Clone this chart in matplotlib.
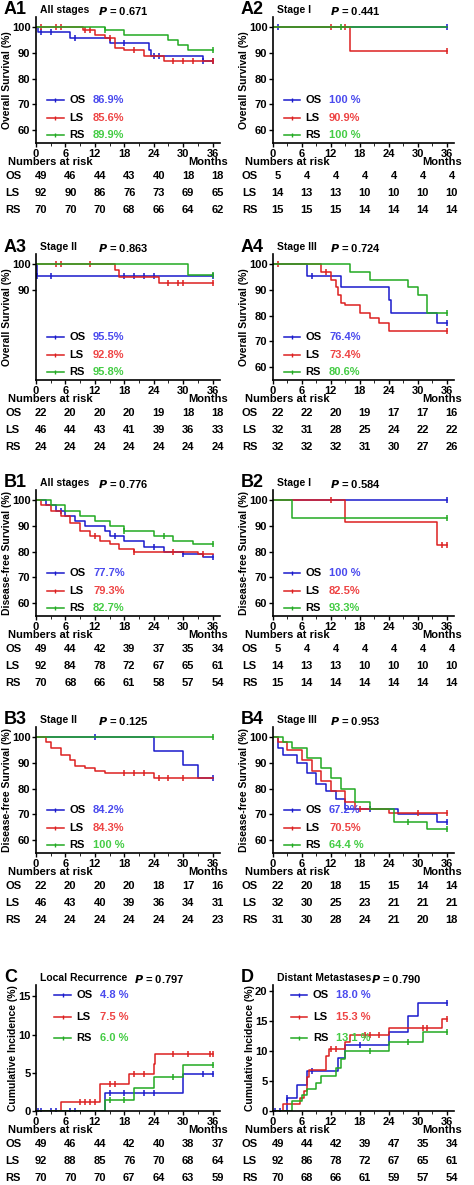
import numpy as np
import matplotlib
matplotlib.use('Agg')
import matplotlib.pyplot as plt
from matplotlib.transforms import blended_transform_factory

plt.rcParams['font.family'] = ['Liberation Sans', 'DejaVu Sans']
plt.rcParams['font.weight'] = 'bold'

BLUE, RED, GREEN = '#1a1acc', '#dd2020', '#22aa22'
LBLUE, LRED, LGREEN = '#4a4aee', '#ee4444', '#44cc44'
groups = ['OS', 'LS', 'RS']
months = [0, 6, 12, 18, 24, 30, 36]

# ---- step curves: (event times, values after each step), censor times ----
a1_os = ([0, 0.5, 7, 15, 23, 23.5, 34], [100, 98, 96, 94, 91, 89, 87])
a1_ls = ([0, 9.5, 12, 14, 16, 18, 22, 26], [100, 99, 97, 96, 92, 91, 89, 87])
a1_rs = ([0, 14, 18, 27, 29, 31], [100, 99, 97, 95, 93, 91])
a1_cens = [[1, 3, 8, 18, 24, 25, 34, 36], [1, 4, 5, 10, 11, 15, 20, 28, 30, 32, 36], [14, 36]]

a2_os = ([0], [100])
a2_ls = ([0, 16], [100, 90.9])
a2_rs = ([0], [100])
a2_cens = [[1, 36], [12, 15, 36], [14]]

a3_os = ([0, 0.3], [100, 95.5])
a3_ls = ([0, 16, 17, 25], [100, 97.6, 95.2, 92.8])
a3_rs = ([0, 31], [100, 95.8])
a3_cens = [[0.3, 3, 18, 20, 22, 24, 36], [4, 5, 11, 27, 29, 30, 36], [36]]

a4_os = ([0, 7, 14, 24, 24.5, 34], [100, 95.5, 91, 86, 81, 77])
a4_ls = ([0, 10, 12, 13, 13.5, 14, 15, 18, 20, 22, 24], [100, 97, 94, 91, 88, 85, 84, 81, 79, 77, 74])
a4_rs = ([0, 16, 20, 28, 30, 32], [100, 97, 94, 91, 88, 81])
a4_cens = [[8, 36], [1, 11, 36], [36]]

b1_os = ([0, 2, 4, 6, 8, 10, 14, 15, 18, 22, 26, 30, 34], [100, 98, 96, 94, 92, 90, 88, 86, 84, 82, 80, 79, 78])
b1_ls = ([0, 1, 3, 5, 7, 9, 11, 13, 15, 17, 20, 26, 33], [100, 98, 96, 94, 91, 88, 86, 84, 83, 81, 80, 80, 79])
b1_rs = ([0, 3, 6, 9, 12, 15, 18, 24, 28, 32], [100, 98, 96, 94, 92, 90, 88, 86, 84, 83])
b1_cens = [[5, 16, 24, 30, 36], [12, 20, 28, 34], [18, 26, 36]]

b2_os = ([0], [100])
b2_ls = ([0, 15, 34], [100, 91.7, 82.5])
b2_rs = ([0, 4], [100, 93.3])
b2_cens = [[36], [12, 35, 36], [36]]

b3_os = ([0, 24, 30, 33], [100, 94.7, 89.4, 84.2])
b3_ls = ([0, 2, 3, 5, 7, 8, 10, 12, 14, 17, 24], [100, 98, 96, 93, 91, 89, 88, 87, 86, 86, 84.3])
b3_rs = ([0], [100])
b3_cens = [[12, 36], [18, 20, 22, 25, 27, 30], [36]]

b4_os = ([0, 1, 2, 5, 7, 9, 11, 13, 15, 24, 26, 34], [100, 96, 93, 90, 86, 82, 79, 76, 72, 72, 70, 67])
b4_ls = ([0, 1, 3, 6, 8, 10, 12, 15, 17, 24], [100, 98, 95, 91, 87, 83, 79, 75, 72, 70.5])
b4_rs = ([0, 2, 4, 7, 10, 12, 14, 17, 20, 25, 32], [100, 98, 96, 92, 88, 84, 80, 75, 72, 67, 64.4])
b4_cens = [[20, 36], [18, 30, 36], [28, 36]]

c_os = ([0, 14, 30], [0, 2.4, 4.8])
c_ls = ([0, 5, 13, 19, 24, 24.3], [0, 1.2, 3.6, 4.9, 6.2, 7.5])
c_rs = ([0, 14, 20, 24, 30], [0, 1.5, 3.0, 4.5, 6.0])
c_cens = [[0.5, 1, 3, 4, 7, 8, 15, 18, 22, 24, 34, 36], [9, 10, 11, 12, 15, 16, 20, 22, 28, 31, 35.5, 36], [15, 18, 28, 36]]

d_os = ([0, 3, 5, 7, 13.5, 15, 24, 28, 30], [0, 2.2, 4.4, 6.6, 8.8, 11, 13.2, 15.8, 18])
d_ls = ([0, 2, 5.5, 6.5, 7, 7.5, 11, 11.5, 14, 15, 16, 24, 35],
        [0, 1.1, 2.2, 3.4, 5.7, 6.8, 9.2, 10.3, 10.3, 11.5, 12.7, 13.9, 15.3])
d_rs = ([0, 4, 6, 7, 9, 10, 13, 14, 15, 24, 31], [0, 1.6, 2.6, 3.6, 4.7, 5.9, 7.1, 8.6, 10.0, 11.5, 13.1])
d_cens = [[0.5, 1.5, 3, 8, 18, 36], [12, 13, 19, 20, 22, 31, 32, 36], [20, 28, 36]]

risk = {
    'A1': [[49, 46, 44, 43, 40, 18, 18], [92, 90, 86, 76, 73, 69, 65], [70, 70, 70, 68, 66, 64, 62]],
    'A2': [[5, 4, 4, 4, 4, 4, 4], [14, 13, 13, 10, 10, 10, 10], [15, 15, 15, 14, 14, 14, 14]],
    'A3': [[22, 20, 20, 20, 19, 18, 18], [46, 44, 43, 41, 39, 36, 33], [24, 24, 24, 24, 24, 24, 24]],
    'A4': [[22, 22, 20, 19, 17, 17, 16], [32, 31, 28, 25, 24, 22, 22], [32, 32, 32, 31, 30, 27, 26]],
    'B1': [[49, 44, 42, 39, 37, 35, 34], [92, 84, 78, 72, 67, 65, 61], [70, 68, 66, 61, 58, 57, 54]],
    'B2': [[5, 4, 4, 4, 4, 4, 4], [14, 13, 13, 10, 10, 10, 10], [15, 14, 14, 14, 14, 14, 14]],
    'B3': [[22, 20, 20, 20, 18, 17, 16], [46, 43, 40, 39, 36, 34, 31], [24, 24, 24, 24, 24, 24, 23]],
    'B4': [[22, 20, 18, 15, 15, 14, 14], [32, 30, 25, 23, 21, 21, 21], [31, 30, 28, 24, 21, 20, 18]],
    'C': [[49, 46, 44, 42, 40, 38, 37], [92, 88, 85, 76, 70, 68, 64], [70, 70, 70, 67, 64, 63, 59]],
    'D': [[49, 44, 42, 39, 47, 35, 34], [92, 86, 78, 72, 67, 65, 61], [70, 68, 66, 61, 59, 57, 54]],
}

panels = [
    # tag, subtitle, P, curves, censors, final %, ylabel, ylim, yticks, legend at top
    ('A1', 'All stages', '0.671', [a1_os, a1_ls, a1_rs], a1_cens, ['86.9%', '85.6%', '89.9%'], 'Overall Survival (%)', (55, 104), [60, 70, 80, 90, 100], False),
    ('A2', 'Stage I', '0.441', [a2_os, a2_ls, a2_rs], a2_cens, ['100 %', '90.9%', '100 %'], 'Overall Survival (%)', (55, 104), [60, 70, 80, 90, 100], False),
    ('A3', 'Stage II', '0.863', [a3_os, a3_ls, a3_rs], a3_cens, ['95.5%', '92.8%', '95.8%'], 'Overall Survival (%)', (55, 104), [90, 100], False),
    ('A4', 'Stage III', '0.724', [a4_os, a4_ls, a4_rs], a4_cens, ['76.4%', '73.4%', '80.6%'], 'Overall Survival (%)', (55, 104), [60, 70, 80, 90, 100], False),
    ('B1', 'All stages', '0.776', [b1_os, b1_ls, b1_rs], b1_cens, ['77.7%', '79.3%', '82.7%'], 'Disease-free Survival (%)', (55, 104), [60, 70, 80, 90, 100], False),
    ('B2', 'Stage I', '0.584', [b2_os, b2_ls, b2_rs], b2_cens, ['100 %', '82.5%', '93.3%'], 'Disease-free Survival (%)', (55, 104), [60, 70, 80, 90, 100], False),
    ('B3', 'Stage II', '0.125', [b3_os, b3_ls, b3_rs], b3_cens, ['84.2%', '84.3%', '100 %'], 'Disease-free Survival (%)', (55, 104), [60, 70, 80, 90, 100], False),
    ('B4', 'Stage III', '0.953', [b4_os, b4_ls, b4_rs], b4_cens, ['67.2%', '70.5%', '64.4 %'], 'Disease-free Survival (%)', (55, 104), [60, 70, 80, 90, 100], False),
    ('C', 'Local Recurrence', '0.797', [c_os, c_ls, c_rs], c_cens, ['4.8 %', '7.5 %', '6.0 %'], 'Cumulative Incidence (%)', (0, 16.5), [0, 5, 10, 15], True),
    ('D', 'Distant Metastases', '0.790', [d_os, d_ls, d_rs], d_cens, ['18.0 %', '15.3 %', '13.1 %'], 'Cumulative Incidence (%)', (0, 21), [0, 5, 10, 15, 20], True),
]

W, H = 474, 1185
fig = plt.figure(figsize=(W / 100, H / 100), dpi=100)
row_tops = [0, 237, 473, 710, 968]
colors = [BLUE, RED, GREEN]
lcolors = [LBLUE, LRED, LGREEN]


def step_value(curve, t):
    ts, vs = curve
    idx = np.searchsorted(ts, t, side='right') - 1
    return vs[max(idx, 0)]


for i, (tag, sub, p, curves, cens, finals, ylab, ylim, yticks, top) in enumerate(panels):
    x0 = 0 if i % 2 == 0 else 237
    y0 = row_tops[i // 2]
    axl = x0 + 36
    aw = 184 if i % 2 == 0 else 181
    ax = fig.add_axes([axl / W, 1 - (y0 + 143) / H, aw / W, 126 / H])
    for curve, cc, col in zip(curves, cens, colors):
        ts = list(curve[0]) + [36]
        vs = list(curve[1]) + [curve[1][-1]]
        ax.step(ts, vs, where='post', color=col, lw=1.1)
        ax.plot(cc, [step_value(curve, t) for t in cc], ls='none', marker='|', ms=4, mew=1.1, color=col)
    ax.set_xlim(0, 37.5)
    ax.set_ylim(*ylim)
    ax.set_xticks(months)
    ax.set_yticks(yticks)
    ax.set_xticks(np.arange(0, 37, 3), minor=True)
    for s in ['top', 'right']:
        ax.spines[s].set_visible(False)
    for s in ['left', 'bottom']:
        ax.spines[s].set_linewidth(1.2)
    ax.tick_params(labelsize=8, length=3, width=1, pad=1)
    ax.set_ylabel(ylab, fontsize=7.5, fontweight='bold', labelpad=0)
    # legend drawn by hand
    ly = [0.92, 0.75, 0.58] if top else [0.34, 0.2, 0.06]
    lx = 0.1 if top else 0.06
    for g, yy, col, lcol, fv in zip(groups, ly, colors, lcolors, finals):
        ax.plot([lx, lx + 0.09], [yy, yy], color=col, lw=1.1, transform=ax.transAxes)
        ax.plot([lx + 0.045], [yy], marker='|', ms=3, color=col, transform=ax.transAxes)
        ax.text(lx + 0.12, yy, g, fontsize=8, va='center', transform=ax.transAxes)
        ax.text(lx + 0.25, yy, fv, fontsize=8, va='center', color=lcol, transform=ax.transAxes)
    # titles
    fig.text((x0 + 4) / W, 1 - (y0 + 10) / H, tag, fontsize=13, fontweight='bold', va='center')
    fig.text((x0 + 40) / W, 1 - (y0 + 10) / H, sub, fontsize=7.5, va='center')
    if tag in ('C', 'D'):
        px = x0 + 134
    elif i % 2 == 0:
        px = x0 + 98
    else:
        px = x0 + 93
    fig.text(px / W, 1 - (y0 + 11) / H, f'$\\boldsymbol{{P}}$ = {p}', fontsize=8, va='center')
    # risk table
    fig.text((x0 + 8) / W, 1 - (y0 + 162) / H, 'Numbers at risk', fontsize=8, va='center')
    fig.text((axl + aw + 8) / W, 1 - (y0 + 162) / H, 'Months', fontsize=8, va='center', ha='right')
    trans = blended_transform_factory(ax.transData, fig.transFigure)
    for k, (g, vals) in enumerate(zip(groups, risk[tag])):
        yy = 1 - (y0 + 176 + k * 17) / H
        fig.text((x0 + 5) / W, yy, g, fontsize=8, va='center')
        for m, v in zip(months, vals):
            ax.text(m + 1.0, yy, str(v), fontsize=8, va='center', ha='center', transform=trans)

fig.savefig('out.png', dpi=100)
